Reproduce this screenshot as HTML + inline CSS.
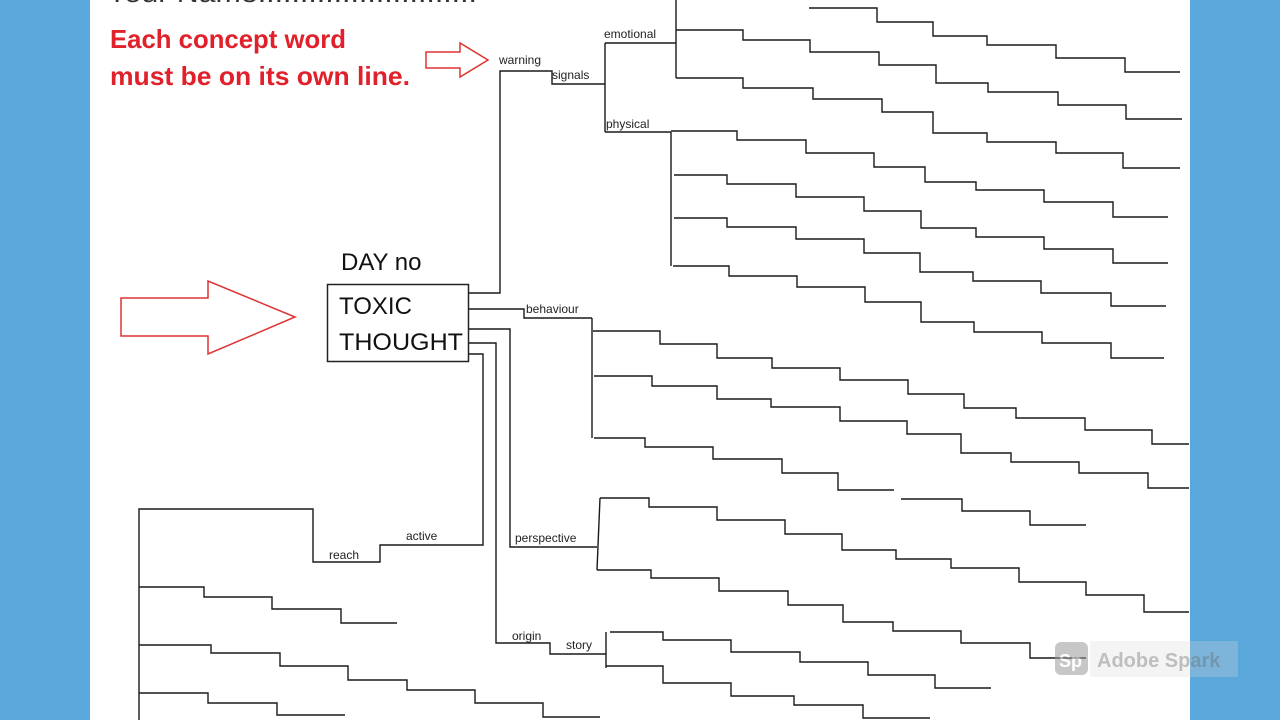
<!DOCTYPE html>
<html><head><meta charset="utf-8"><style>
html,body{margin:0;padding:0;width:1280px;height:720px;overflow:hidden;background:#5aa7db}
svg{display:block}
text{font-family:"Liberation Sans",sans-serif}
</style></head><body>
<svg width="1280" height="720" viewBox="0 0 1280 720" xmlns="http://www.w3.org/2000/svg">
<rect x="0" y="0" width="1280" height="720" fill="#5aa7db"/>
<rect x="90" y="0" width="1100" height="720" fill="#ffffff"/>
<text x="107" y="2" font-size="26" fill="#333" textLength="370" lengthAdjust="spacingAndGlyphs">Your Name..........................</text>
<text x="110" y="48" font-size="26" font-weight="bold" fill="#e0202a" textLength="236" lengthAdjust="spacingAndGlyphs">Each concept word</text>
<text x="110" y="85" font-size="26" font-weight="bold" fill="#e0202a" textLength="300" lengthAdjust="spacingAndGlyphs">must be on its own line.</text>
<polygon points="426,52 460,52 460,43 488,60 460,77 460,68 426,68" fill="none" stroke="#d33" stroke-width="1.5"/>
<polygon points="121,298 208,298 208,281 295,317 208,354 208,336 121,336" fill="none" stroke="#d33" stroke-width="1.5"/>
<text x="341" y="270" font-size="24" fill="#111">DAY no</text>
<rect x="327.5" y="284.5" width="141" height="77" fill="#fff" stroke="#222" stroke-width="1.5"/>
<text x="339" y="314" font-size="24" fill="#111">TOXIC</text>
<text x="339" y="350" font-size="24" fill="#111" textLength="124" lengthAdjust="spacingAndGlyphs">THOUGHT</text>
<g fill="none" stroke="#1a1a1a" stroke-width="1.4">
<path d="M469 293 H500 V71 H552 V84 H605"/>
<path d="M605 43 V132"/>
<path d="M605 43 H676"/>
<path d="M605 132 H671"/>
<path d="M676 0 V78"/>
<path d="M809 8 H877 V22 H933 V36 H987 V45 H1056 V58 H1125 V72 H1180"/>
<path d="M676 30 H743 V40 H810 V52 H879 V65 H936 V83 H988 V92 H1058 V105 H1126 V119 H1182"/>
<path d="M676 78 H743 V88 H813 V99 H882 V112 H933 V133 H987 V142 H1056 V153 H1123 V168 H1180"/>
<path d="M671 132 V266"/>
<path d="M671 131 H737 V140 H806 V153 H874 V167 H925 V182 H976 V190 H1044 V202 H1113 V217 H1168"/>
<path d="M674 175 H727 V184 H796 V197 H864 V211 H921 V228 H976 V237 H1044 V249 H1113 V263 H1168"/>
<path d="M674 218 H727 V227 H796 V239 H864 V253 H920 V272 H973 V281 H1041 V293 H1111 V306 H1166"/>
<path d="M673 266 H729 V276 H797 V287 H865 V302 H921 V322 H974 V332 H1042 V343 H1111 V358 H1164"/>
<path d="M469 309 H524 V318 H592"/>
<path d="M592 318 V438"/>
<path d="M593 331 H660 V344 H717 V358 H772 V368 H840 V380 H908 V394 H964 V408 H1016 V418 H1085 V430 H1152 V444 H1189"/>
<path d="M594 376 H652 V386 H717 V399 H771 V407 H840 V421 H907 V434 H961 V453 H1011 V462 H1079 V473 H1148 V488 H1189"/>
<path d="M594 438 H645 V447 H713 V459 H782 V473 H838 V490 H894"/>
<path d="M901 499 H962 V511 H1030 V525 H1086"/>
<path d="M469 329 H510 V547 H597"/>
<path d="M600 498 L597 570"/>
<path d="M600 498 H649 V507 H717 V520 H785 V534 H842 V550 H896 V559 H951 V568 H1019 V582 H1086 V595 H1144 V612 H1189"/>
<path d="M597 570 H651 V578 H719 V591 H788 V605 H843 V622 H893 V631 H961 V643 H1030 V658 H1086"/>
<path d="M469 343 H496 V643 H550 V654 H606"/>
<path d="M606 632 V668"/>
<path d="M610 632 H663 V640 H731 V652 H800 V662 H868 V675 H935 V688 H991"/>
<path d="M606 666 H663 V683 H731 V696 H794 V705 H863 V718 H930"/>
<path d="M469 354 H483 V545 H380 V562 H313 V509 H139 V720"/>
<path d="M139 587 H204 V597 H272 V609 H341 V623 H397"/>
<path d="M139 645 H211 V653 H280 V666 H348 V680 H407 V690 H475 V703 H543 V717 H600"/>
<path d="M139 693 H208 V703 H277 V715 H345"/>
</g>
<g font-size="12" fill="#222">
<text x="499" y="64">warning</text>
<text x="552" y="79">signals</text>
<text x="604" y="38">emotional</text>
<text x="606" y="128">physical</text>
<text x="526" y="313">behaviour</text>
<text x="515" y="542">perspective</text>
<text x="512" y="640">origin</text>
<text x="566" y="649">story</text>
<text x="329" y="559">reach</text>
<text x="406" y="540">active</text>
</g>
<g opacity="0.55">
<rect x="1055" y="642" width="33" height="33" rx="6" fill="#9a9a9a"/>
<text x="1059" y="667" font-size="18" font-weight="bold" fill="#fff">Sp</text>
<rect x="1090" y="641" width="148" height="36" fill="#d8d8d8" opacity="0.5"/>
<text x="1097" y="667" font-size="20" font-weight="bold" fill="#8a8a8a">Adobe Spark</text>
</g>
</svg>
</body></html>
